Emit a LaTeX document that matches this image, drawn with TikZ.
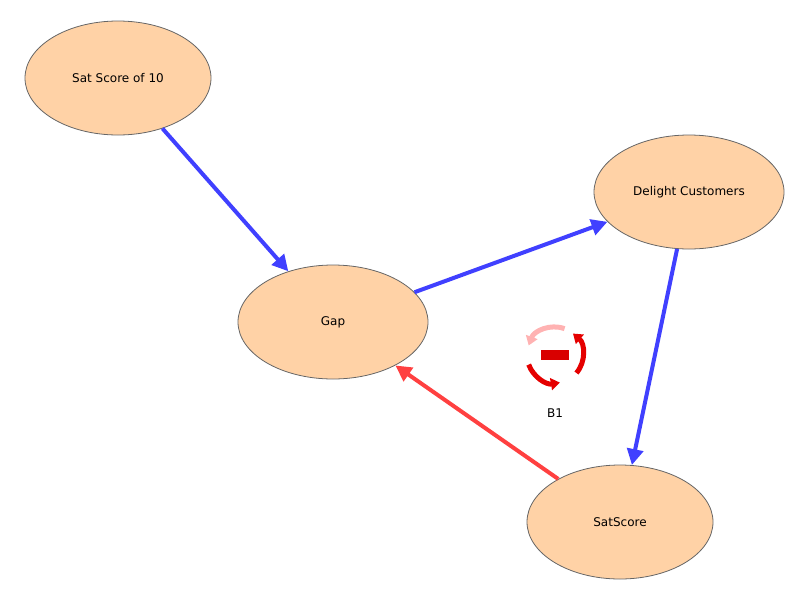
\documentclass[tikz,border=0pt]{standalone}
\usepackage{fontspec}
\setmainfont{DejaVu Sans}
\usetikzlibrary{arrows.meta,shapes.geometric}
\colorlet{varFill}{orange!35!white}
\colorlet{posLink}{blue!75!white}
\colorlet{negLink}{red!75!white}
\tikzset{
  % node options
  var/.style={ellipse,draw=black!60,thick,fill=varFill,font=\large},
  % path options
  link/.style={-{Triangle[length=16pt,width=16pt]},line width=4pt},
  linkPos/.style={link,draw=posLink,fill=posLink},
  linkNeg/.style={link,draw=negLink,fill=negLink},
}
\begin{document}
\begin{tikzpicture}[x=1pt,y=-1pt]
  \useasboundingbox (0,0) rectangle (800,600);
  \node[var,minimum width=186pt,minimum height=114pt] (target) at (118,78) {Sat Score of 10};
  \node[var,minimum width=190pt,minimum height=114pt] (gap) at (333,322) {Gap};
  \node[var,minimum width=190pt,minimum height=114pt] (delight) at (689,192) {Delight Customers};
  \node[var,minimum width=186pt,minimum height=114pt] (score) at (620,522) {SatScore};
  \draw[linkPos] (target) -- (gap);
  \draw[linkPos] (gap) -- (delight);
  \draw[linkPos] (delight) -- (score);
  \draw[linkNeg] (score) -- (gap);
  % loop marker
  \coordinate (loop) at (555,355);
  \draw[red!90!black,line width=5pt,-{Triangle[length=9pt,width=12pt]}] (loop) ++(160:28) arc[start angle=160,end angle=80,radius=28];
  \draw[red!90!black,line width=5pt,-{Triangle[length=9pt,width=12pt]}] (loop) ++(40:28) arc[start angle=40,end angle=-50,radius=28];
  \draw[red!30,line width=5pt,-{Triangle[length=9pt,width=12pt]}] (loop) ++(-70:28) arc[start angle=-70,end angle=-160,radius=28];
  \fill[red!85!black] (541,350) rectangle (569,360);
  \node[font=\large] (b1) at (555,413) {B1};
\end{tikzpicture}
\end{document}
